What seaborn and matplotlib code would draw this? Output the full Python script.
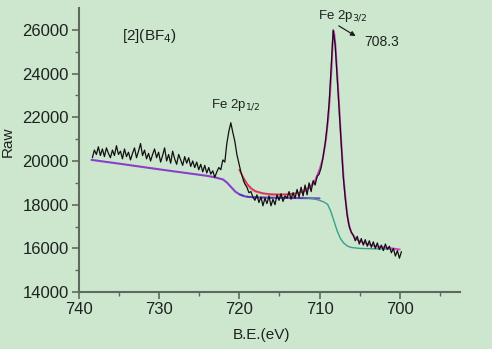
import numpy as np
import pandas as pd
import matplotlib
matplotlib.use("Agg")
import matplotlib.pyplot as plt
import seaborn as sns

# ---- data ----
raw_start = 738.3
raw_step = 0.25
raw_counts = [
    20150, 20500, 20300, 20650, 20250, 20550, 20200, 20600, 20350, 20150,
    20500, 20250, 20700, 20300, 20450, 20100, 20550, 20200, 20400, 20050,
    20350, 20600, 20150, 20450, 20800, 20250, 20500, 20100, 20350, 20000,
    20300, 20550, 20150, 20400, 19950, 20250, 20600, 20000, 20300, 19900,
    20450, 20100, 19850, 20300, 20050, 19800, 20200, 19900, 20150, 19750,
    20000, 19700, 19950, 19600, 19850, 19500, 19800, 19450, 19700, 19400,
    19550, 19250,
    19500, 19700, 19600, 20050, 19950, 20800, 21350, 21750, 21300, 20900,
    20300, 19900, 19500, 19200, 18950, 18800, 18550, 18600, 18350,
    18200, 18450, 18100, 18350, 17950, 18300, 18050, 18400, 17950, 18250,
    18000, 18450, 18200, 18500, 18150, 18400, 18300, 18600, 18250, 18550,
    18300, 18700, 18350, 18800, 18400, 18900, 18450, 19000, 18600, 19100,
    18900, 19300, 19400,
    19700, 20200, 20800, 21600, 22700, 24300, 26000, 25300, 23800, 22300,
    20800, 19300, 18300, 17500, 17000, 16750,
    16600, 16350, 16550, 16200, 16450, 16150, 16400, 16100, 16350, 16050,
    16300, 16000, 16250, 15950, 16150, 15900, 16200, 15950, 16100, 15800,
    16000, 15650, 15900, 15550, 15850,
]
raw_be = raw_start - raw_step * np.arange(len(raw_counts))

bg_left_be = [738.4, 735, 730, 726, 724, 723, 722, 721.5, 721, 720.5, 720,
              719.5, 719, 718, 716, 714, 712, 710]
bg_left = [20050, 19880, 19620, 19420, 19320, 19250, 19150, 19000, 18800,
           18600, 18480, 18400, 18360, 18330, 18320, 18310, 18300, 18290]

bg_mid_be = [720, 719, 718, 716, 714, 712, 711]
bg_mid = [18470, 18370, 18340, 18320, 18310, 18300, 18295]

bg_right_be = [711.6, 711, 710.5, 710, 709.5, 709, 708.6, 708.2, 707.8, 707.4,
               707, 706.5, 706, 705, 703, 701, 700.2]
bg_right = [18300, 18280, 18250, 18200, 18130, 18020, 17700, 17250, 16800,
            16450, 16250, 16100, 16040, 16000, 15980, 15970, 15960]

env_be = [720, 719.5, 719, 718.5, 718, 717, 716, 715, 714, 713, 712, 711.5,
          711, 710.5, 710]
env = [19600, 19250, 18950, 18750, 18620, 18520, 18480, 18470, 18480, 18520,
       18600, 18700, 18850, 19100, 19600]

comp_be = [719.5, 719, 718.5, 718, 717, 716, 715, 714, 713]
comp = [19100, 18850, 18700, 18600, 18500, 18450, 18430, 18420, 18400]

peak_be = [712, 711.5, 711, 710.5, 710, 709.6, 709.2, 708.9, 708.7, 708.5,
           708.35, 708.25, 708.15, 708.0, 707.8, 707.6, 707.4, 707.2, 707.0,
           706.8, 706.6, 706.4, 706.2, 706.0, 705.5, 705, 704, 703, 702, 701, 700]
peak = [18650, 18750, 18900, 19150, 19600, 20100, 21000, 22000, 23000, 24300,
        25500, 25950, 25800, 25200, 24000, 22800, 21500, 20300, 19200,
        18400, 17700, 17200, 16900, 16700, 16450, 16330, 16200, 16100, 16050,
        16000, 15950]

x_ticks = [740, 730, 720, 710, 700]
y_ticks = [14000, 16000, 18000, 20000, 22000, 24000, 26000]

# ---- style ----
sns.set_theme(style="ticks")
plt.rcParams["font.family"] = ["Liberation Sans", "DejaVu Sans"]
bgc = "#cde7cf"
ink = "#1e221e"
spine_c = "#5f6a5f"

fig = plt.figure(figsize=(4.92, 3.49), dpi=100, facecolor=bgc)
ax = fig.add_axes([0.16, 0.163, 0.775, 0.814])
ax.set_facecolor(bgc)

sns.lineplot(x=bg_left_be, y=bg_left, ax=ax, sort=False, color="#8a3fc8", lw=1.5)
sns.lineplot(x=bg_mid_be, y=bg_mid, ax=ax, sort=False, color="#3040c0", lw=1.0,
             linestyle="--")
sns.lineplot(x=bg_right_be, y=bg_right, ax=ax, sort=False, color="#3a9e8c", lw=1.0)
sns.lineplot(x=comp_be, y=comp, ax=ax, sort=False, color="#c8a48a", lw=1.6)
sns.lineplot(x=env_be, y=env, ax=ax, sort=False, color="#e0305a", lw=1.2)
sns.lineplot(x=peak_be, y=peak, ax=ax, sort=False, color="#e040c8", lw=1.4)
sns.lineplot(x=raw_be, y=raw_counts, ax=ax, sort=False, color="#111111", lw=0.9)

ax.set_xlim(740, 692.5)
ax.set_ylim(14000, 27000)
ax.set_xticks(x_ticks)
ax.set_xticks([735, 725, 715, 705, 695], minor=True)
ax.set_yticks(y_ticks)
ax.set_yticks([15000, 17000, 19000, 21000, 23000, 25000], minor=True)
ax.set_xticklabels([str(t) for t in x_ticks])
ax.set_yticklabels([str(t) for t in y_ticks])

for s in ["top", "right"]:
    ax.spines[s].set_visible(False)
for s in ["left", "bottom"]:
    ax.spines[s].set_color(spine_c)
    ax.spines[s].set_linewidth(1.5)
ax.tick_params(axis="both", which="major", length=5, width=1.2, color=spine_c,
               labelsize=12, labelcolor=ink, pad=2)
ax.tick_params(axis="both", which="minor", length=3, width=1.0, color=spine_c)

ax.set_xlabel("B.E.(eV)", fontsize=11, color=ink)
ax.xaxis.set_label_coords(0.48, -0.125)
ax.set_ylabel("Raw", fontsize=11, color=ink)
ax.yaxis.set_label_coords(-0.168, 0.53)

ax.text(734.6, 25700, r"[2](BF$_4$)", fontsize=11, color=ink, ha="left", va="center")
ax.text(723.5, 22200, r"Fe 2p$_{1/2}$", fontsize=9.5, color=ink, ha="left", va="bottom")
ax.text(710.2, 26250, r"Fe 2p$_{3/2}$", fontsize=9.5, color=ink, ha="left", va="bottom")
ax.annotate("", xy=(705.2, 25650), xytext=(707.9, 26250),
            arrowprops=dict(arrowstyle="-|>", color=ink, lw=0.9, mutation_scale=7))
ax.text(704.4, 25450, "708.3", fontsize=10, color=ink, ha="left", va="center")

fig.savefig("out.png", dpi=100, facecolor=bgc)
